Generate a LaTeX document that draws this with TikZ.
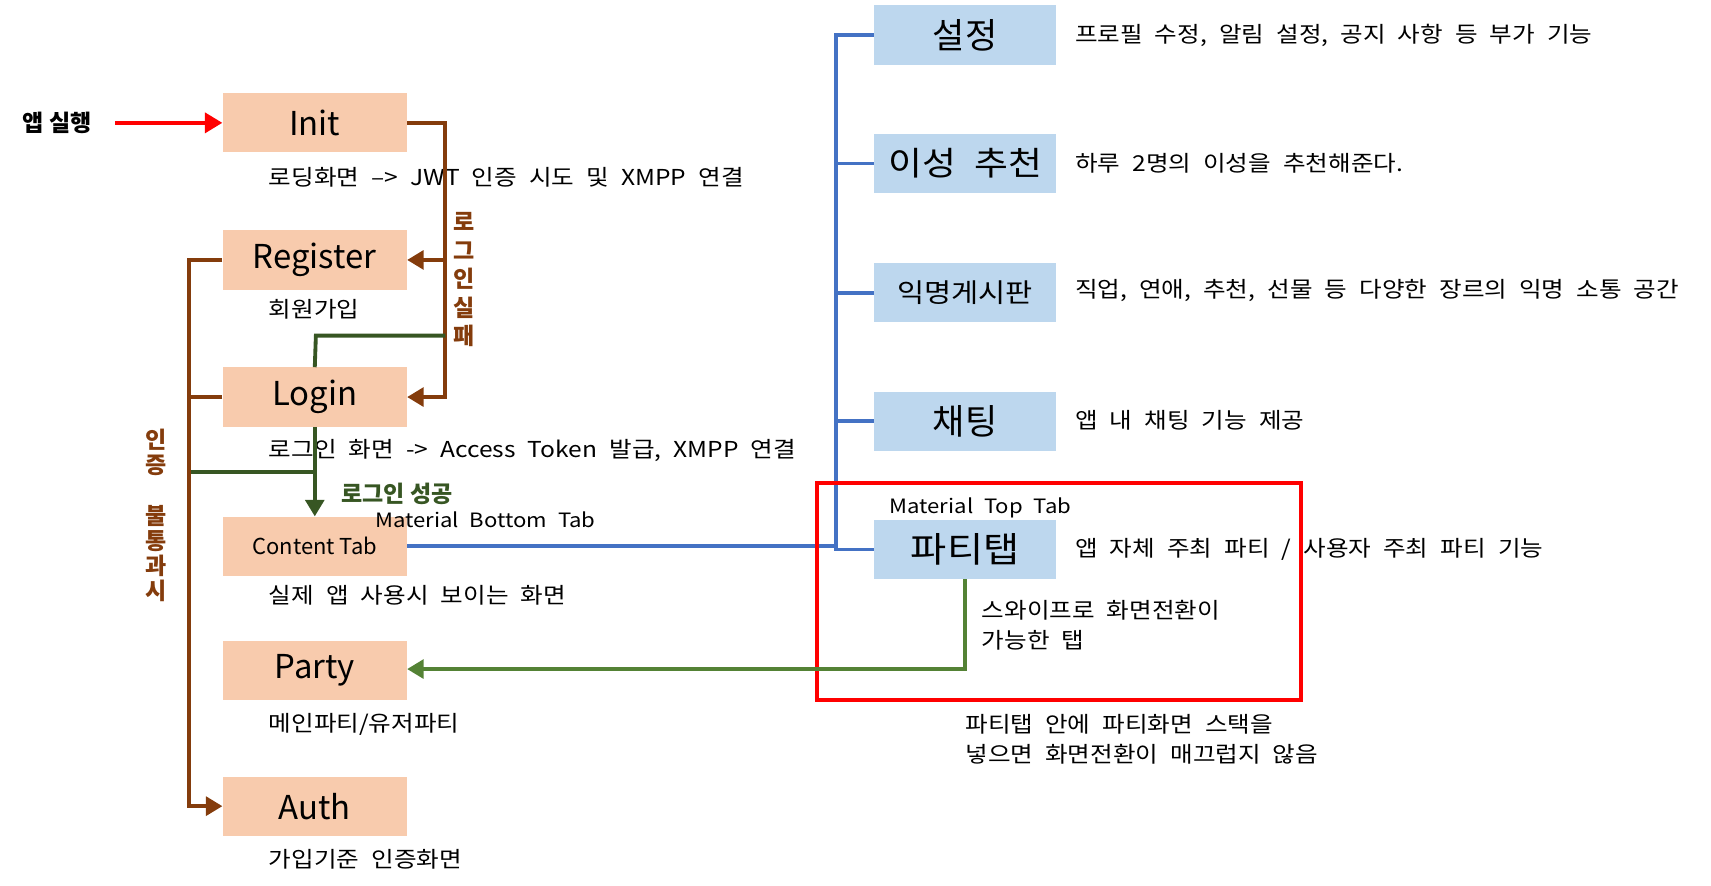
\documentclass[tikz,border=0pt]{standalone}
\usepackage{fontspec}
\setmainfont{Noto Sans CJK KR}
\newfontfamily\krw[FakeStretch=1.12,WordSpace=2.2]{Noto Sans CJK KR}
\usetikzlibrary{arrows.meta}
\begin{document}
\begin{tikzpicture}[x=1pt,y=-1pt,
  lb/.style={fill={rgb,255:red,248;green,203;blue,173},minimum width=168pt,minimum height=54pt,inner sep=0pt,font=\fontsize{30}{30}\selectfont},
  rb/.style={fill={rgb,255:red,189;green,215;blue,238},minimum width=166pt,minimum height=54pt,inner sep=0pt},
  desc/.style={anchor=west,inner sep=0pt,font=\krw\fontsize{20}{27}\selectfont},
  br/.style={draw={rgb,255:red,132;green,60;blue,12},line width=3.5pt},
  dg/.style={draw={rgb,255:red,55;green,86;blue,35},line width=3.5pt},
  lg/.style={draw={rgb,255:red,84;green,130;blue,53},line width=3.5pt},
  bl/.style={draw={rgb,255:red,68;green,114;blue,196},line width=3.5pt},
  tip/.style={-{Triangle[length=15pt,width=17pt]}}]
\useasboundingbox (0,0) rectangle (1560,807);
\node[font=\bfseries\fontsize{21}{21}\selectfont] (run) at (52,112) {앱 실행};
\node[lb] (init) at (287,112) {Init};
\node[lb] (reg) at (287,237) {Register};
\node[lb] (login) at (287,362) {Login};
\node[lb,font=\fontsize{20}{20}\selectfont] (ct) at (287,498) {Content Tab};
\node[lb] (party) at (287,611) {Party};
\node[lb] (auth) at (287,735) {Auth};
\node[desc] (d1) at (245,162) {로딩화면 –> JWT 인증 시도 및 XMPP 연결};
\node[desc] (d2) at (245,282) {회원가입};
\node[desc] (d3) at (245,411) {로그인 화면 -> Access Token 발급, XMPP 연결};
\node[desc] (d4) at (245,543) {실제 앱 사용시 보이는 화면};
\node[desc] (d5) at (245,660) {메인파티/유저파티};
\node[desc] (d6) at (245,783) {가입기준 인증화면};
\node[desc,font=\krw\fontsize{18}{18}\selectfont] (mbt) at (342,474) {Material Bottom Tab};
% red arrow
\coordinate (r0) at (105,112);
\draw[line width=4pt,red,-{Triangle[length=16pt,width=18pt]}] (r0) -- (init.west);
% brown login fail
\coordinate (b1) at (406,112); \coordinate (b2) at (406,362); \coordinate (b3) at (406,237);
\draw[br,tip] (init.east) -- (b1) -- (b2) -- (login.east);
\draw[br,tip] (b3) -- (reg.east);
\node[font=\bfseries\fontsize{21}{26}\selectfont,text={rgb,255:red,132;green,60;blue,12},align=center] (fail) at (423,255) {로\\그\\인\\실\\패};
% green
\coordinate (g1) at (406,306); \coordinate (g2) at (288,306);
\draw[dg] (g1) -- (g2) -- (login.north);
\draw[dg,tip] (login.south) -- (ct.north);
\coordinate (g3) at (172,430); \coordinate (g4) at (288,430);
\draw[dg] (g3) -- (g4);
\node[font=\bfseries\fontsize{21}{21}\selectfont,text={rgb,255:red,55;green,86;blue,35}] (succ) at (362,450) {로그인 성공};
% left brown
\coordinate (l1) at (172,237); \coordinate (l2) at (172,362); \coordinate (l3) at (172,735);
\draw[br,tip] (reg.west) -- (l1) -- (l3) -- (auth.west);
\draw[br] (login.west) -- (l2);
\node[font=\bfseries\fontsize{21}{23}\selectfont,text={rgb,255:red,132;green,60;blue,12},align=center] (nf) at (142,470) {인\\증\\\\불\\통\\과\\시};
% right boxes
\node[rb,font=\fontsize{32}{32}\selectfont] (s1) at (880,32) {설정};
\node[rb,font=\krw\fontsize{30}{30}\selectfont] (s2) at (880,149) {이성 추천};
\node[rb,font=\krw\fontsize{24}{24}\selectfont] (s3) at (880,267) {익명게시판};
\node[rb,font=\fontsize{32}{32}\selectfont] (s4) at (880,384) {채팅};
\node[rb,font=\krw\fontsize{32}{32}\selectfont] (s5) at (880,501) {파티탭};
\node[desc] (e1) at (980,32) {프로필 수정, 알림 설정, 공지 사항 등 부가 기능};
\node[desc] (e2) at (980,149) {하루 2명의 이성을 추천해준다.};
\node[desc] (e3) at (980,265) {직업, 연애, 추천, 선물 등 다양한 장르의 익명 소통 공간};
\node[desc] (e4) at (980,383) {앱 내 채팅 기능 제공};
\node[desc] (e5) at (980,501) {앱 자체 주최 파티 / 사용자 주최 파티 기능};
\node[font=\krw\fontsize{18}{18}\selectfont] (mtt) at (894,463) {Material Top Tab};
% blue
\coordinate (v0) at (762,32); \coordinate (v5) at (762,501);
\draw[bl] (ct.east) -- (ct.east -| v5) -- (v5) -- (s5.west);
\draw[bl] (s1.west) -- (v0) -- (v5);
\foreach \n in {s2,s3,s4} \draw[bl] (\n.west) -- (\n.west -| v0);
% red rect
\node[draw=red,line width=3.5pt,minimum width=441pt,minimum height=198pt,inner sep=0pt] (frame) at (965.5,539) {};
% party green
\coordinate (p1) at (880,610);
\draw[lg,tip] (s5.south) -- (p1) -- (party.east |- p1);
\node[desc,align=left] (sw) at (895,570) {스와이프로 화면전환이\\가능한 탭};
\node[desc,align=left] (nt) at (880,674) {파티탭 안에 파티화면 스택을\\넣으면 화면전환이 매끄럽지 않음};
\end{tikzpicture}
\end{document}
